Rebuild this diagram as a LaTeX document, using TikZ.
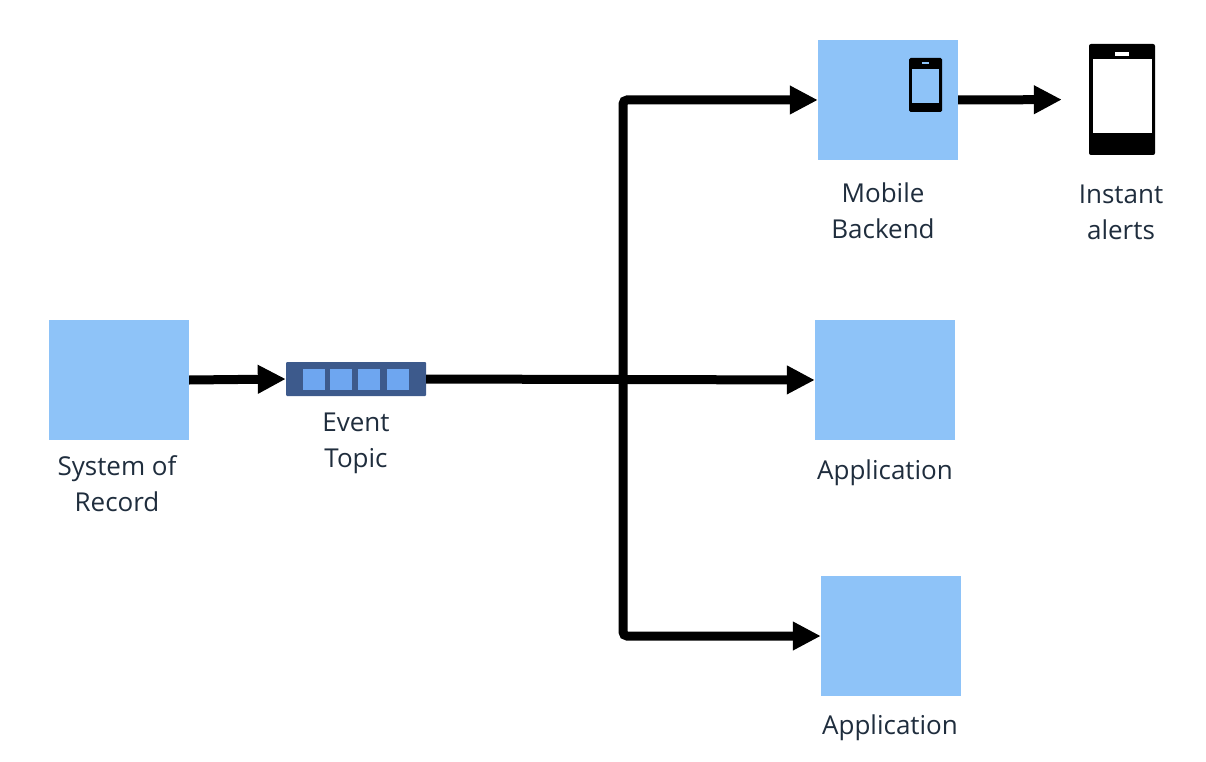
\documentclass[tikz,border=0pt]{standalone}
\usepackage{fontspec}
\setmainfont{Open Sans}
\usetikzlibrary{arrows.meta}
\definecolor{lb}{HTML}{8EC3F8}
\definecolor{tb}{HTML}{3D5A8C}
\definecolor{ts}{HTML}{6EA6F0}
\definecolor{tx}{HTML}{1F2D3D}
\begin{document}
\begin{tikzpicture}[x=1pt,y=-1pt,
  box/.style={fill=lb,draw=none,minimum width=140pt,minimum height=120pt,inner sep=0pt},
  lbl/.style={text=tx,font=\fontsize{26}{36}\selectfont,align=center},
  conn/.style={line width=9pt,-{Triangle[length=28pt,width=27pt]},rounded corners=4pt},
  sq/.style={fill=ts,draw=none,minimum width=22pt,minimum height=21pt,inner sep=0pt}]
\useasboundingbox (0,0) rectangle (1206,762);
\node[box] (sor) at (119,380) {};
\node[lbl] (sorl) at (117,484) {System of\\Record};
\node[fill=tb,draw=none,minimum width=140pt,minimum height=34pt,inner sep=0pt,rounded corners=1pt] (topic) at (356,379) {};
\foreach \i/\x in {1/314,2/341,3/369,4/398}{\node[sq] (q\i) at (\x,379) {};}
\node[lbl] (topicl) at (356,443) {Event\\Topic};
\node[box] (mb) at (888,100) {};
\node[lbl] (mbl) at (883,211) {Mobile\\Backend};
\node[box] (a1) at (885,380) {};
\node[lbl] (a1l) at (885,473) {Application};
\node[box] (a2) at (891,636) {};
\node[lbl] (a2l) at (890,728) {Application};
% small phone
\node[fill=black,draw=none,minimum width=33pt,minimum height=54pt,inner sep=0pt,rounded corners=1.5pt] (sp) at (925.5,85) {};
\node[fill=lb,draw=none,minimum width=27pt,minimum height=34pt,inner sep=0pt] (sps) at (925.5,86) {};
\node[fill=lb,draw=none,minimum width=7pt,minimum height=2pt,inner sep=0pt] (spk) at (925.5,63) {};
% big phone
\node[fill=black,draw=none,minimum width=66pt,minimum height=111pt,inner sep=0pt,rounded corners=2pt] (bp) at (1122,99.5) {};
\node[fill=white,draw=none,minimum width=59pt,minimum height=74pt,inner sep=0pt] (bps) at (1122,96) {};
\node[fill=white,draw=none,minimum width=14pt,minimum height=4pt,inner sep=0pt] (bpk) at (1122,54) {};
\node[lbl] (bpl) at (1121,212) {Instant\\alerts};
\coordinate (split) at (623,380);
\draw[conn] (sor.east) -- (topic.west);
\draw[conn] (topic.east) -- (a1.west);
\draw[conn] (split) |- (mb.west);
\draw[conn] (split) |- (a2.west);
\draw[conn,shorten >=27pt] (mb.east) -- (bp.west);
\end{tikzpicture}
\end{document}
